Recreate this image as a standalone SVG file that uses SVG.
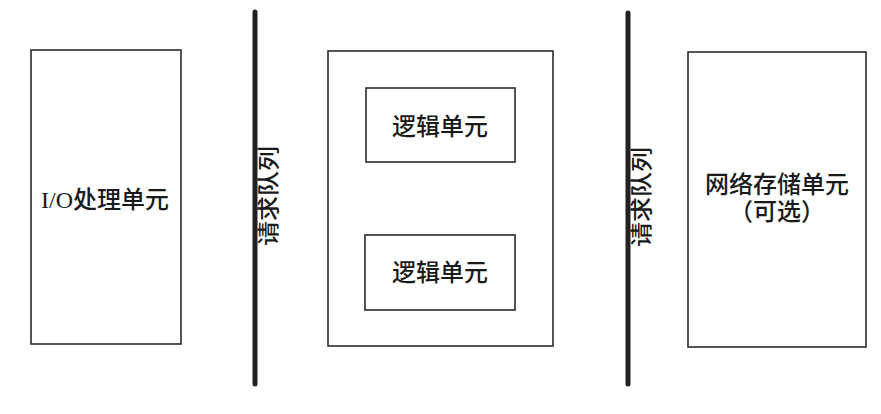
<svg xmlns="http://www.w3.org/2000/svg" width="881" height="414" viewBox="0 0 881 414">
<style>
.box{fill:none;stroke:#2a2a2a;stroke-width:1.6}
.bar{stroke:#222;stroke-width:5;stroke-linecap:round}
.t{font-family:"Liberation Serif","Noto Sans CJK SC",serif;font-size:24px;font-weight:500;fill:#1a1a1a;text-anchor:middle;dominant-baseline:central}
.q{font-size:25px}
</style>
<rect width="881" height="414" fill="#fff"/>
<g id="connectors">
<line class="bar" x1="255" y1="12" x2="255" y2="384"/>
<line class="bar" x1="628" y1="13" x2="628" y2="384"/>
</g>
<g id="queue1">
<text class="t q" transform="translate(269,196) rotate(-90) scale(1,0.85)">请求队列</text>
</g>
<g id="queue2">
<text class="t q" transform="translate(642,197) rotate(-90) scale(1,0.85)">请求队列</text>
</g>
<g id="io">
<rect class="box" x="31" y="50" width="150" height="294"/>
<text class="t" x="105" y="200">I/O处理单元</text>
</g>
<g id="logic-group">
<rect class="box" x="328" y="51" width="225" height="295"/>
</g>
<g id="logic1">
<rect class="box" x="366" y="88" width="149" height="74"/>
<text class="t" x="440" y="127">逻辑单元</text>
</g>
<g id="logic2">
<rect class="box" x="365" y="235" width="150" height="75"/>
<text class="t" x="440" y="273">逻辑单元</text>
</g>
<g id="storage">
<rect class="box" x="688" y="52" width="178" height="295"/>
<text class="t" x="777" y="185">网络存储单元</text>
<text class="t" x="777" y="212">（可选）</text>
</g>
</svg>
